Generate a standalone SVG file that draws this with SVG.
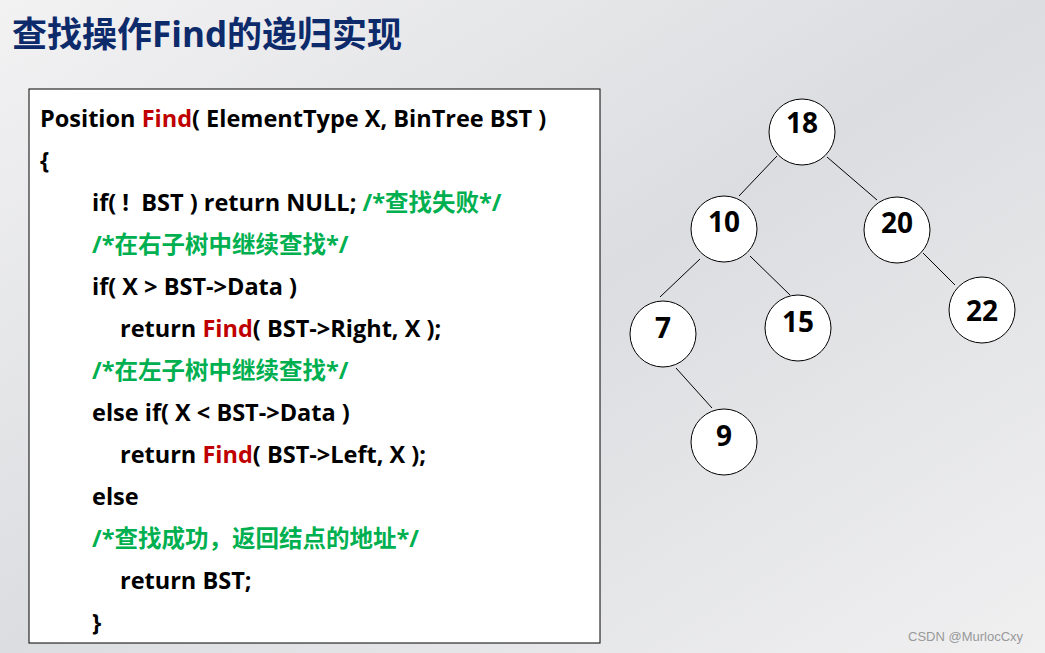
<svg xmlns="http://www.w3.org/2000/svg" width="1045" height="653" viewBox="0 0 1045 653">
<defs>
<linearGradient id="bg" x1="0" y1="0" x2="1" y2="1">
<stop offset="0" stop-color="#f2f2f3"/><stop offset="0.5" stop-color="#dcdde0"/><stop offset="1" stop-color="#f0f0f1"/>
</linearGradient>
<style>
.c{font-family:"Open Sans","Noto Sans CJK SC",sans-serif;font-weight:bold;font-size:23.5px;fill:#000}
.r{fill:#c00000}.g{fill:#00b050}
.n circle{fill:#fff;stroke:#000;stroke-width:1}
.n text{font-family:"Open Sans",sans-serif;font-weight:bold;font-size:28px;text-anchor:middle}
.e line{stroke:#000;stroke-width:1}
</style>
</defs>
<rect width="1045" height="653" fill="url(#bg)"/>
<text x="12" y="47" font-family="'Open Sans','Noto Sans CJK SC',sans-serif" font-weight="bold" font-size="35" fill="#0d2a6b">查找操作Find的递归实现</text>
<rect x="29" y="89" width="571" height="554" fill="#fff" stroke="#000" stroke-width="1"/>
<g class="c">
<text x="40" y="127">Position <tspan class="r">Find</tspan>( ElementType X, BinTree BST )</text>
<text x="40" y="169">{</text>
<text x="92" y="211" xml:space="preserve">if( !  BST ) return NULL; <tspan class="g">/*查找失败*/</tspan></text>
<text x="92" y="253" class="c g">/*在右子树中继续查找*/</text>
<text x="92" y="295">if( X &gt; BST-&gt;Data )</text>
<text x="120" y="337">return <tspan class="r">Find</tspan>( BST-&gt;Right, X );</text>
<text x="92" y="379" class="c g">/*在左子树中继续查找*/</text>
<text x="92" y="421">else if( X &lt; BST-&gt;Data )</text>
<text x="120" y="463">return <tspan class="r">Find</tspan>( BST-&gt;Left, X );</text>
<text x="92" y="505">else</text>
<text x="92" y="547" class="c g">/*查找成功，返回结点的地址*/</text>
<text x="120" y="589">return BST;</text>
<text x="92" y="631">}</text>
</g>
<g id="edges" class="e">
<line x1="777" y1="156" x2="739" y2="196"/>
<line x1="827" y1="157" x2="877" y2="200"/>
<line x1="700" y1="259" x2="660" y2="297"/>
<line x1="750" y1="256" x2="790" y2="295"/>
<line x1="923" y1="253" x2="955" y2="285"/>
<line x1="676" y1="368" x2="712" y2="408"/>
</g>
<g id="n18" class="n"><circle cx="802" cy="132" r="33"/><text x="802" y="133">18</text></g>
<g id="n10" class="n"><circle cx="724" cy="229" r="33"/><text x="724" y="232">10</text></g>
<g id="n20" class="n"><circle cx="897" cy="230" r="33"/><text x="897" y="233">20</text></g>
<g id="n7" class="n"><circle cx="663" cy="334" r="33"/><text x="663" y="338">7</text></g>
<g id="n15" class="n"><circle cx="798" cy="328" r="33"/><text x="798" y="332">15</text></g>
<g id="n22" class="n"><circle cx="982" cy="310" r="33"/><text x="982" y="321">22</text></g>
<g id="n9" class="n"><circle cx="724" cy="442" r="33"/><text x="724" y="446">9</text></g>
<text x="908" y="641" font-family="'Liberation Sans',sans-serif" font-size="13" fill="#999">CSDN @MurlocCxy</text>
</svg>
